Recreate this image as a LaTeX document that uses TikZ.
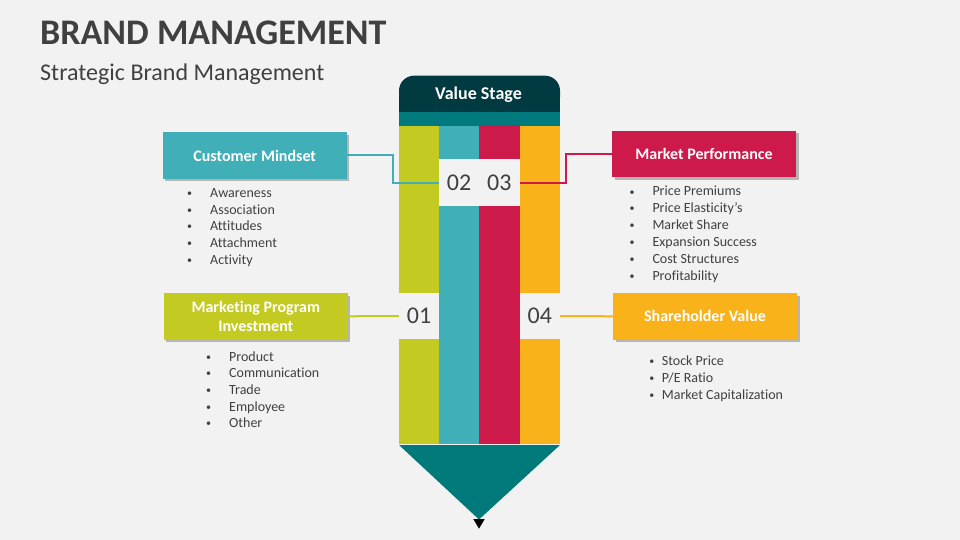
\documentclass[tikz,border=0pt]{standalone}
\usepackage{fontspec}
\setmainfont{Carlito}[Ligatures=NoCommon]
\usetikzlibrary{shadows}
\definecolor{bg}{HTML}{F2F2F2}
\definecolor{txt}{HTML}{404040}
\definecolor{capc}{HTML}{013A40}
\definecolor{strip}{HTML}{007A7C}
\definecolor{cgreen}{HTML}{C3CA22}
\definecolor{cblue}{HTML}{41AFB8}
\definecolor{cred}{HTML}{CE1A4A}
\definecolor{corange}{HTML}{F9B21A}
\definecolor{tri}{HTML}{00797A}
\newcommand{\smbul}{\raisebox{1pt}{\fontsize{10}{10}\selectfont •}}
\begin{document}
\begin{tikzpicture}[x=1pt,y=-1pt,
  hbox/.style={minimum width=184pt, minimum height=46.4pt, inner sep=0pt, text=white,
    font=\bfseries\fontsize{16}{18.5}\selectfont, align=center,
    drop shadow={shadow xshift=2.5pt, shadow yshift=-2.5pt, fill=black, opacity=0.25}},
  numbox/.style={fill=bg, inner sep=0pt, minimum height=46.5pt, text=txt,
    font=\fontsize{24}{24}\selectfont},
  item/.style={anchor=base west, inner sep=0pt, text=txt, font=\fontsize{14}{16}\selectfont},
  conn/.style={line width=2pt}]
\fill[bg] (0,0) rectangle (960,540);
\useasboundingbox (0,0) rectangle (960,540);

% titles
\node[anchor=base west, inner sep=0pt, text=txt, font=\bfseries\fontsize{36}{36}\selectfont] (title) at (40,45) {BRAND MANAGEMENT};
\node[anchor=base west, inner sep=0pt, text=txt, font=\fontsize{24}{24}\selectfont] (sub) at (40,81) {Strategic Brand Management};

% pencil
\fill[capc, rounded corners=15pt] (399,75.7) rectangle (560,112);
\fill[capc] (399,95) rectangle (560,112);
\fill[strip] (399,111.7) rectangle (560,126);
\fill[cgreen] (399,125.7) rectangle (439,443.7);
\fill[cblue] (439,125.7) rectangle (479,443.7);
\fill[cred] (479,125.7) rectangle (519.7,443.7);
\fill[corange] (519.7,125.7) rectangle (560,443.7);
\fill[tri] (399,445) -- (560,445) -- (479,519.5) -- cycle;
\fill[black] (473.3,519) -- (484.7,519) -- (479,528.7) -- cycle;
\node[text=white, font=\bfseries\fontsize{18}{18}\selectfont, anchor=base, inner sep=0pt] (vs) at (478.5,100) {Value Stage};

% number boxes
\node[numbox, minimum width=40pt] (n02) at (459,182.7) {02};
\node[numbox, minimum width=40.7pt] (n03) at (499.35,182.7) {03};
\node[numbox, minimum width=40pt] (n01) at (419,316) {01};
\node[numbox, minimum width=40.3pt] (n04) at (539.85,316) {04};

% heading boxes
\node[hbox, fill=cblue] (cm) at (254.7,155.5) {Customer Mindset};
\node[hbox, fill=cred] (mp) at (704,154.2) {Market Performance};
\node[hbox, fill=cgreen] (mpi) at (255.8,316.3) {Marketing Program\\Investment};
\node[hbox, fill=corange] (sv) at (705,316.3) {Shareholder Value};

% connectors
\coordinate (k1) at (393,155.5);
\coordinate (k2) at (566,154.2);
\draw[conn, cblue] (cm.east) -- (k1) |- (n02.west);
\draw[conn, cred] (mp.west) -- (k2) |- (n03.east);
\draw[conn, cgreen] (mpi.east) -- (n01.west);
\draw[conn, corange] (sv.west) -- (n04.east);

% bullet lists
\foreach \t [count=\i] in {Awareness, Association, Attitudes, Attachment, Activity}
  \node[item] (cmi\i) at (210,{197.3+16.8*(\i-1)}) {\llap{\smbul\hspace{18pt}}\t};
\foreach \t [count=\i] in {Price Premiums, Price Elasticity’s, Market Share, Expansion Success, Cost Structures, Profitability}
  \node[item] (mpl\i) at (652.3,{196+16.8*(\i-1)}) {\llap{\smbul\hspace{18pt}}\t};
\foreach \t [count=\i] in {Product, Communication, Trade, Employee, Other}
  \node[item] (mpil\i) at (229,{361+16.7*(\i-1)}) {\llap{\smbul\hspace{18pt}}\t};
\foreach \t [count=\i] in {Stock Price, P/E Ratio, Market Capitalization}
  \node[item] (svl\i) at (661.7,{365.7+16.8*(\i-1)}) {\llap{\smbul\hspace{7.5pt}}\t};
\end{tikzpicture}
\end{document}
